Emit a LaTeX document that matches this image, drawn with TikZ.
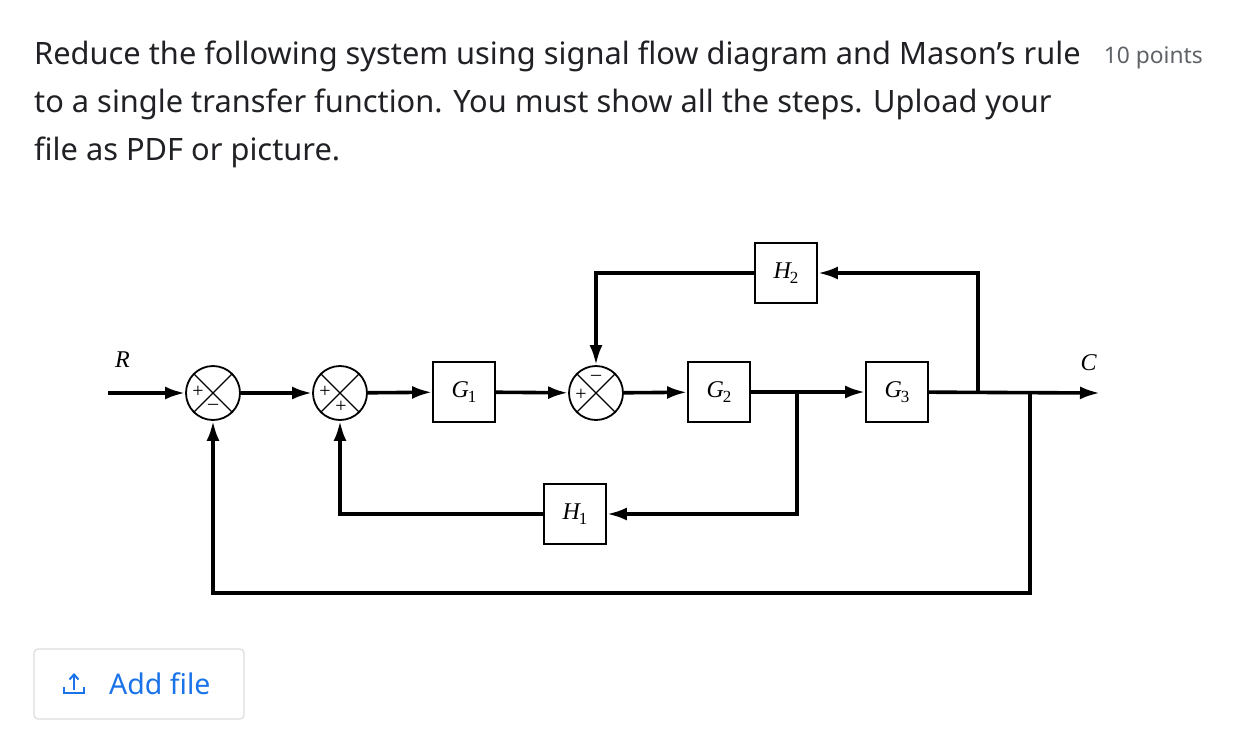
\documentclass[tikz,border=0pt]{standalone}
\usepackage{fontspec}
\setmainfont{Noto Sans}
\newfontfamily\dgserif{Liberation Serif}
\usetikzlibrary{arrows.meta,calc}
\definecolor{gtext}{HTML}{202124}
\definecolor{ggray}{HTML}{5F6368}
\definecolor{gblue}{HTML}{1A73E8}
\definecolor{gborder}{HTML}{DADCE0}
\newcommand{\lab}[2]{{\dgserif\fontsize{24}{24}\selectfont\itshape #1\kern-1pt\raisebox{-5pt}{\fontsize{17}{17}\selectfont\upshape #2}}}
\begin{document}
\begin{tikzpicture}[x=1pt,y=-1pt,
  blk/.style={draw,line width=1.8pt,minimum width=62pt,minimum height=60pt,inner sep=0pt},
  sum/.style={draw,circle,line width=1.8pt,minimum size=54pt,inner sep=0pt},
  sig/.style={line width=3.6pt,-{Latex[length=20pt,width=13pt]}},
  sgn/.style={inner sep=0pt,font=\dgserif\fontsize{20}{20}\selectfont}]
\useasboundingbox (0,0) rectangle (1248,734);
\fill[white] (0,0) rectangle (1248,734);
% header text
\node[anchor=base west,text=gtext,font=\fontsize{30.8}{30.8}\selectfont,inner sep=0pt] (l1) at (34,64) {Reduce the following system using signal flow diagram and Mason’s rule};
\node[anchor=base west,text=gtext,font=\fontsize{30.8}{30.8}\selectfont,inner sep=0pt] (l2) at (34,112) {to a single transfer function. You must show all the steps. Upload your};
\node[anchor=base west,text=gtext,font=\fontsize{30.8}{30.8}\selectfont,inner sep=0pt] (l3) at (34,160) {file as PDF or picture.};
\node[anchor=base east,text=ggray,font=\fontsize{22.8}{22.8}\selectfont,inner sep=0pt] (pts) at (1203,63) {10 points};
% button
\node[draw=gborder,line width=1.2pt,rounded corners=4pt,minimum width=210pt,minimum height=70pt] (btn) at (139,684) {};
\node[text=gblue,font=\fontsize{28.5}{28.5}\selectfont,anchor=base west,inner sep=0pt] (addf) at (109,694) {Add file};
\draw[gblue,line width=2pt] (64,687) -- (64,693) -- (84,693) -- (84,687);
\draw[gblue,line width=2pt,-{Straight Barb[length=5pt,width=9pt]}] (74,690) -- (74,673);
% diagram
\node[sum] (s1) at (213,393) {};
\node[sum] (s2) at (340,393) {};
\node[sum] (s3) at (596,393) {};
\foreach \s in {s1,s2,s3}{
  \draw[line width=1.2pt] (\s.north west) -- (\s.south east) (\s.north east) -- (\s.south west);}
\node[sgn] at ($(s1)+(-15,-1)$) {+};
\node[sgn] at ($(s1)+(0,14)$) {–};
\node[sgn] at ($(s2)+(-15,-1)$) {+};
\node[sgn] at ($(s2)+(1,14)$) {+};
\node[sgn] at ($(s3)+(-15,2)$) {+};
\node[sgn] at ($(s3)+(0,-15)$) {–};
\node[blk] (g1) at (464,392) {\lab{G}{1}};
\node[blk] (g2) at (719,392) {\lab{G}{2}};
\node[blk] (g3) at (897,392) {\lab{G}{3}};
\node[blk] (h2) at (786,273) {\lab{H}{2}};
\node[blk] (h1) at (575,514) {\lab{H}{1}};
\node (R) at (122,362) {\lab{R}{}};
\node (C) at (1088,365) {\lab{C}{}};
\coordinate (in) at (108,393);
\coordinate (out) at (1100,393);
\coordinate (b1) at (797,393);
\coordinate (b2) at (978,393);
\coordinate (b3) at (1030,393);
\draw[sig] (in) -- (s1);
\draw[sig] (s1) -- (s2);
\draw[sig] (s2) -- (g1);
\draw[sig] (g1) -- (s3);
\draw[sig] (s3) -- (g2);
\draw[sig] (g2) -- (g3);
\draw[sig] (g3) -- (out);
\draw[sig] (b2) |- (h2.east);
\draw[sig] (h2.west) -| (s3.north);
\draw[sig] (b1) |- (h1.east);
\draw[sig] (h1.west) -| (s2.south);
\draw[sig] (b3) |- (213,593) -- (s1.south);
\end{tikzpicture}
\end{document}
